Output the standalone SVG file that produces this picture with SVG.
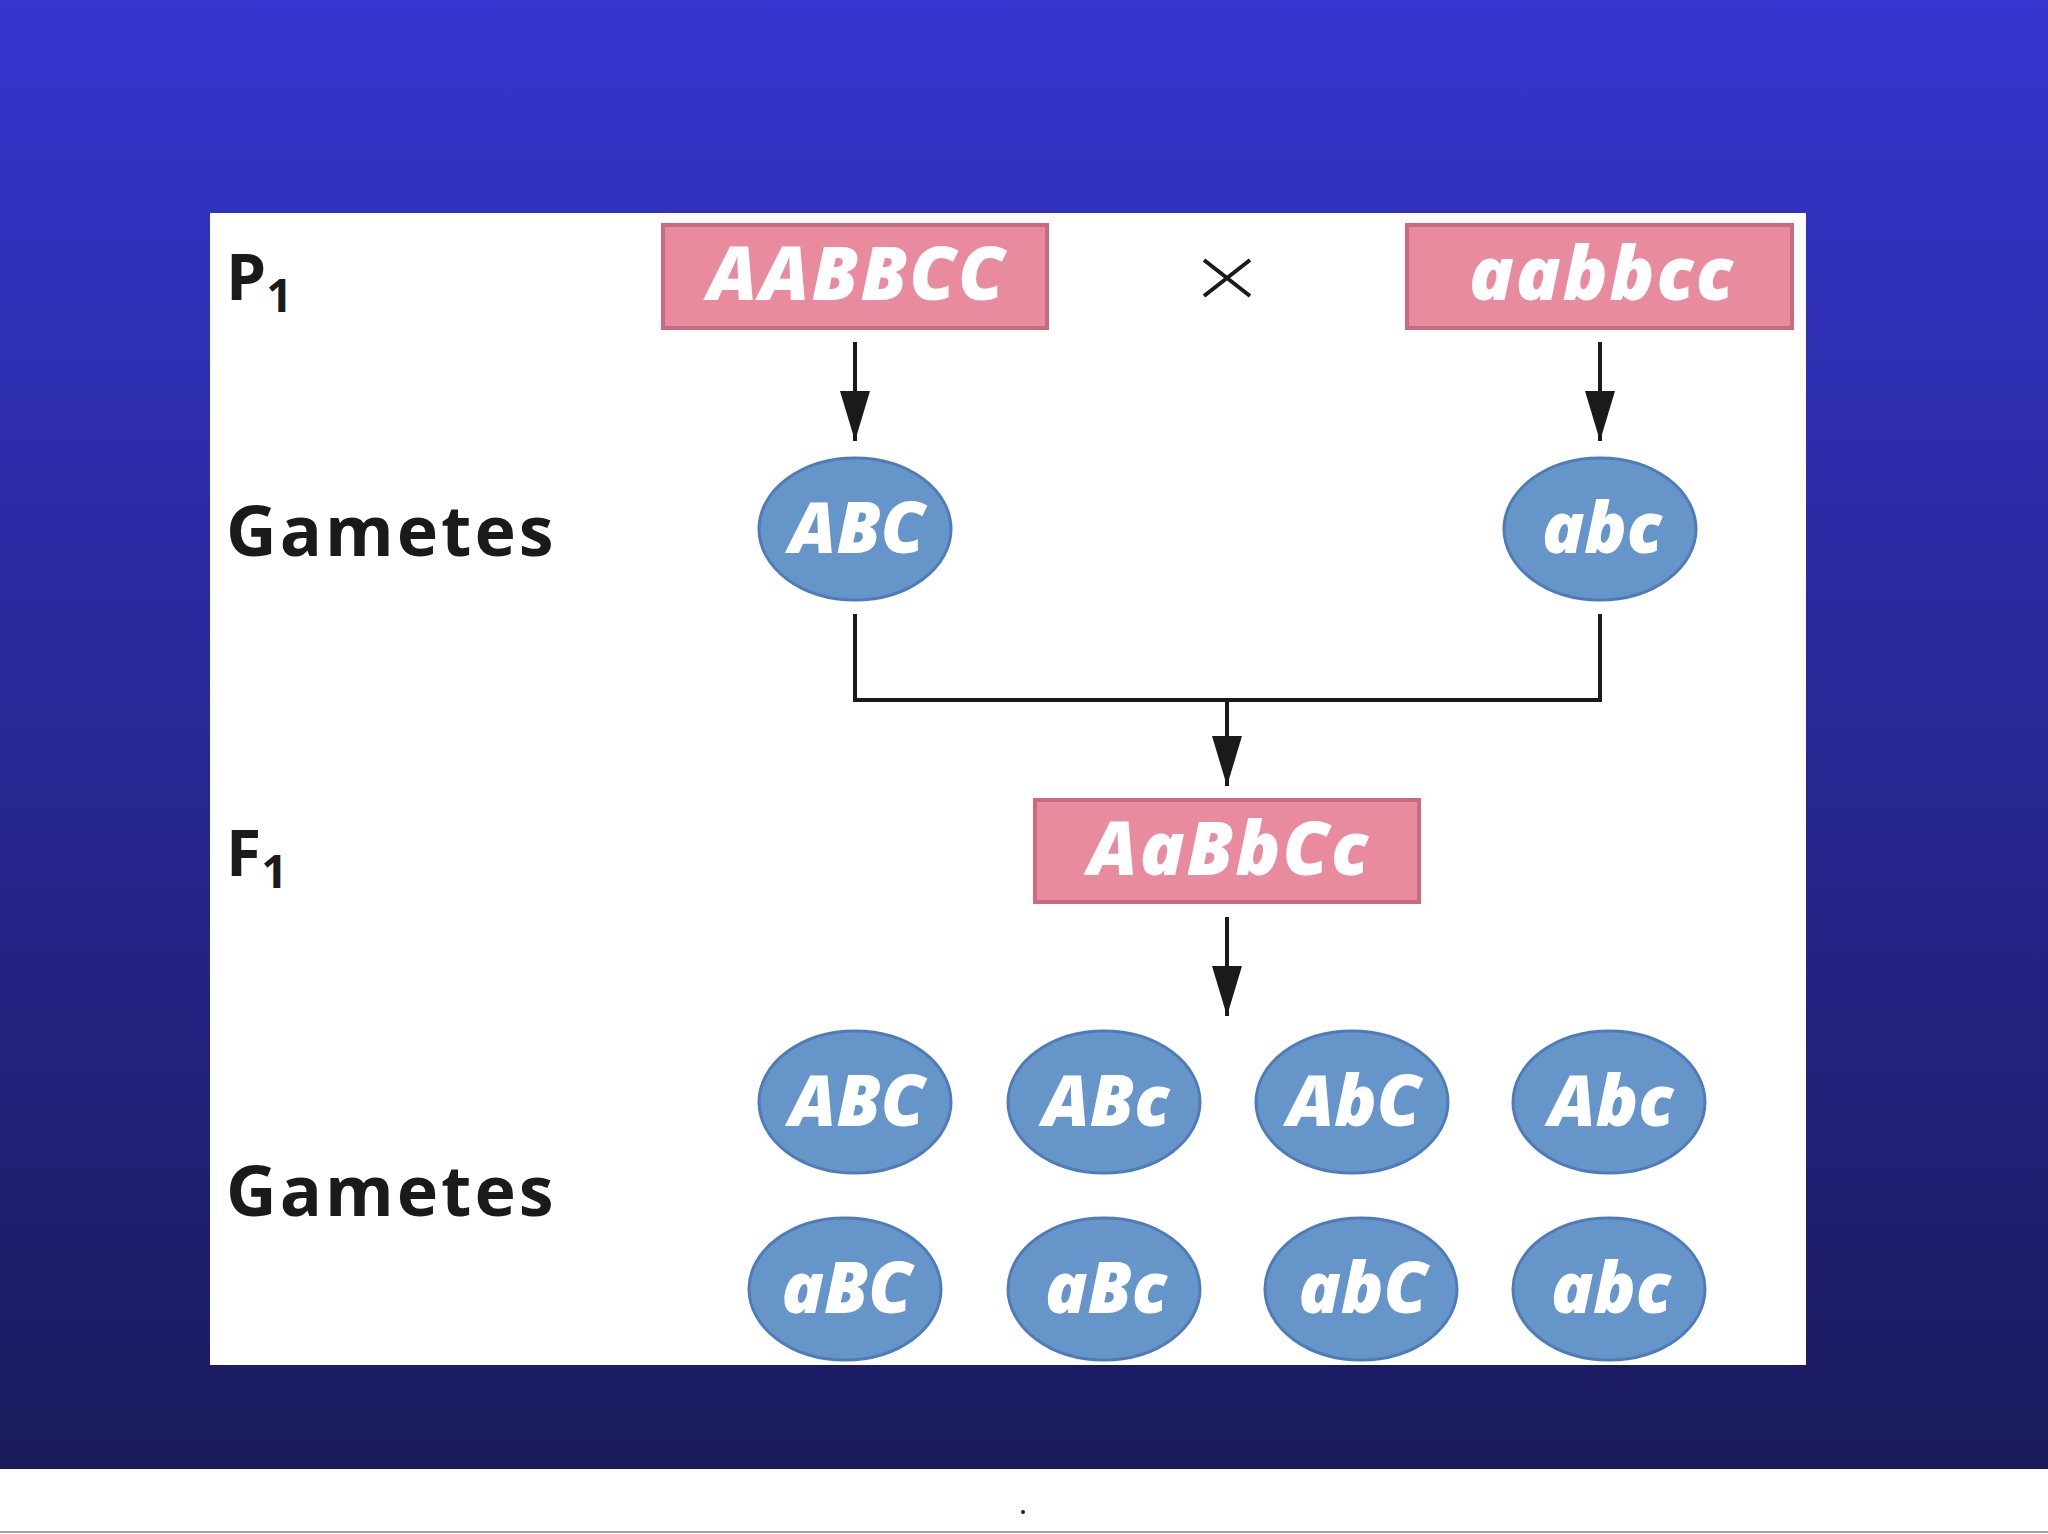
<svg xmlns="http://www.w3.org/2000/svg" width="2048" height="1534" viewBox="0 0 2048 1534">
<defs>
<linearGradient id="bg" x1="0" y1="0" x2="0" y2="1"><stop offset="0" stop-color="#3535cf"/><stop offset="1" stop-color="#1a1a5c"/></linearGradient>
<marker id="ah" viewBox="0 0 50 30" refX="50" refY="15" markerWidth="50" markerHeight="30" markerUnits="userSpaceOnUse" orient="auto"><path d="M0,0 L50,15 L0,30 Z" fill="#1a1a1a"/></marker>
<style>
.box{fill:#e88b9e;stroke:#c96a80;stroke-width:4}
.gam{fill:#6595c9;stroke:#4f7cb8;stroke-width:3}
.in{font-family:"Open Sans","DejaVu Sans",sans-serif;font-style:italic;font-weight:800;fill:#fff;text-anchor:middle}
.lab{font-family:"Open Sans","DejaVu Sans",sans-serif;font-weight:700;fill:#1a1a1a}
.ln{stroke:#1a1a1a;stroke-width:4;fill:none}
</style>
</defs>
<rect width="2048" height="1534" fill="#fff"/>
<rect width="2048" height="1469" fill="url(#bg)"/>
<line x1="0" y1="1532" x2="2048" y2="1532" stroke="#9aa" stroke-width="2"/>
<circle cx="1023" cy="1512" r="2" fill="#222"/>
<rect x="210" y="213" width="1596" height="1152" fill="#fff"/>
<text class="lab" x="226" y="300" font-size="64">P<tspan font-size="46" dy="12">1</tspan></text>
<text class="lab" x="226" y="556" font-size="70" letter-spacing="3">Gametes</text>
<text class="lab" x="226" y="876" font-size="64">F<tspan font-size="46" dy="12">1</tspan></text>
<text class="lab" x="226" y="1216" font-size="70" letter-spacing="3">Gametes</text>
<g id="p1a"><rect class="box" x="663" y="225" width="384" height="103"/><text class="in" x="857" y="300" font-size="74" letter-spacing="2">AABBCC</text></g>
<g id="cross"><path class="ln" d="M1204,260 L1250,296 M1250,260 L1204,296" stroke-width="3"/></g>
<g id="p1b"><rect class="box" x="1407" y="225" width="385" height="103"/><text class="in" x="1602" y="300" font-size="74" letter-spacing="2">aabbcc</text></g>
<g id="g1"><ellipse class="gam" cx="855" cy="529" rx="96" ry="71"/><text class="in" x="857" y="553" font-size="70">ABC</text></g>
<g id="g2"><ellipse class="gam" cx="1600" cy="529" rx="96" ry="71"/><text class="in" x="1602" y="553" font-size="70">abc</text></g>
<g id="f1"><rect class="box" x="1035" y="800" width="384" height="102"/><text class="in" x="1229" y="875" font-size="74" letter-spacing="2">AaBbCc</text></g>
<g id="r1"><ellipse class="gam" cx="855" cy="1102" rx="96" ry="71"/><text class="in" x="857" y="1126" font-size="70">ABC</text></g>
<g id="r2"><ellipse class="gam" cx="1104" cy="1102" rx="96" ry="71"/><text class="in" x="1106" y="1126" font-size="70">ABc</text></g>
<g id="r3"><ellipse class="gam" cx="1352" cy="1102" rx="96" ry="71"/><text class="in" x="1354" y="1126" font-size="70">AbC</text></g>
<g id="r4"><ellipse class="gam" cx="1609" cy="1102" rx="96" ry="71"/><text class="in" x="1611" y="1126" font-size="70">Abc</text></g>
<g id="r5"><ellipse class="gam" cx="845" cy="1289" rx="96" ry="71"/><text class="in" x="847" y="1313" font-size="70">aBC</text></g>
<g id="r6"><ellipse class="gam" cx="1104" cy="1289" rx="96" ry="71"/><text class="in" x="1106" y="1313" font-size="70">aBc</text></g>
<g id="r7"><ellipse class="gam" cx="1361" cy="1289" rx="96" ry="71"/><text class="in" x="1363" y="1313" font-size="70">abC</text></g>
<g id="r8"><ellipse class="gam" cx="1609" cy="1289" rx="96" ry="71"/><text class="in" x="1611" y="1313" font-size="70">abc</text></g>
<g id="connectors">
<line class="ln" x1="855" y1="342" x2="855" y2="441" marker-end="url(#ah)"/>
<line class="ln" x1="1600" y1="342" x2="1600" y2="441" marker-end="url(#ah)"/>
<path class="ln" d="M855,614 V700 H1600 V614"/>
<line class="ln" x1="1227" y1="700" x2="1227" y2="786" marker-end="url(#ah)"/>
<line class="ln" x1="1227" y1="917" x2="1227" y2="1016" marker-end="url(#ah)"/>
</g>
</svg>
